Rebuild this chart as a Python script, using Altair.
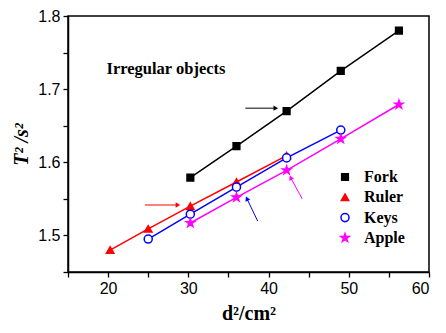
import altair as alt
import pandas as pd

series_names = ["Fork", "Ruler", "Keys", "Apple"]
series_stroke = ["#000000", "#ff0000", "#0000ff", "#ff00ff"]
series_fill = ["#000000", "#ff0000", "#ffffff", "#ff00ff"]

fork_x = [30.25, 36, 42.25, 49, 56.25]
fork_y = [1.579, 1.622, 1.670, 1.725, 1.780]
ruler_x = [20.25, 25, 30.25, 36, 42.25]
ruler_y = [1.480, 1.509, 1.540, 1.573, 1.609]
keys_x = [25, 30.25, 36, 42.25, 49]
keys_y = [1.495, 1.529, 1.566, 1.606, 1.644]
apple_x = [30.25, 36, 42.25, 49, 56.25]
apple_y = [1.517, 1.552, 1.589, 1.632, 1.679]

# annotation arrows (data coordinates): tail -> head
arrow_x0 = [37.1, 24.6, 38.65, 44.2]
arrow_y0 = [1.674, 1.5416, 1.5195, 1.550]
arrow_x1 = [40.9, 28.7, 37.3, 42.75]
arrow_y1 = [1.674, 1.5416, 1.5503, 1.579]
arrow_color = ["#000000", "#ff0000", "#0000ff", "#ff00ff"]
arrow_angle = [90, 90, 335, 333]

note_text = ["Irregular objects"]
note_x = [19.8]
note_y = [1.727]

x_ticks = [15, 20, 25, 30, 35, 40, 45, 50, 55, 60]
y_ticks = [1.45, 1.5, 1.55, 1.6, 1.65, 1.7, 1.75, 1.8]

rows = []
for name, xs, ys in [("Fork", fork_x, fork_y), ("Ruler", ruler_x, ruler_y),
                     ("Keys", keys_x, keys_y), ("Apple", apple_x, apple_y)]:
    for xv, yv in zip(xs, ys):
        rows.append({"series": name, "x": xv, "y": yv})
df = pd.DataFrame(rows)

arrows = pd.DataFrame({"x0": arrow_x0, "y0": arrow_y0, "x1": arrow_x1, "y1": arrow_y1,
                       "c": arrow_color, "a": arrow_angle})
notes = pd.DataFrame({"t": note_text, "x": note_x, "y": note_y})

star = ("M0,-1L0.225,-0.309L0.951,-0.309L0.363,0.118L0.588,0.809L0,0.382"
        "L-0.588,0.809L-0.363,0.118L-0.951,-0.309L-0.225,-0.309Z")

xscale = alt.Scale(domain=[15, 60], nice=False, zero=False)
yscale = alt.Scale(domain=[1.45, 1.8], nice=False, zero=False)

xaxis = alt.Axis(values=x_ticks, labelExpr="datum.value % 10 == 0 ? datum.label : ''",
                 title="d²/cm²", grid=False, tickSize=5, tickColor="black", tickWidth=1.3,
                 domainColor="black", domainWidth=1.5, labelFont="Liberation Sans",
                 labelFontSize=16, labelColor="black", labelPadding=3, labelOverlap=False,
                 titleFont="Liberation Serif", titleFontSize=20, titleFontWeight="bold",
                 titleColor="black", titleBaseline="alphabetic", titleY=47)
yaxis = alt.Axis(values=y_ticks,
                 labelExpr="(round(datum.value * 100) % 10) == 0 ? format(datum.value, '.1f') : ''",
                 title="T² /s²", grid=False, tickSize=5, tickColor="black", tickWidth=1.3,
                 domainColor="black", domainWidth=1.5, labelFont="Liberation Sans",
                 labelFontSize=16, labelColor="black", labelPadding=3, labelOverlap=False,
                 labelBound=False,
                 titleFont="Liberation Serif", titleFontSize=20, titleFontWeight="bold",
                 titleFontStyle="italic", titleColor="black", titleBaseline="alphabetic",
                 titleX=-41)

stroke_scale = alt.Scale(domain=series_names, range=series_stroke)

legend = alt.Legend(title=None, orient="none", legendX=269, legendY=153, padding=0,
                    labelFont="Liberation Serif", labelFontSize=16, labelFontWeight="bold",
                    labelColor="black", labelOffset=11, rowPadding=4.3, symbolStrokeWidth=1.5)

lines = alt.Chart(df).mark_line(strokeWidth=1.5).encode(
    x=alt.X("x:Q", scale=xscale, axis=xaxis),
    y=alt.Y("y:Q", scale=yscale, axis=yaxis),
    stroke=alt.Stroke("series:N", scale=stroke_scale, legend=legend, sort=series_names),
    detail="series:N",
)

points = alt.Chart(df).mark_point(filled=False, strokeWidth=1.5, opacity=1).encode(
    x=alt.X("x:Q", scale=xscale, axis=xaxis),
    y=alt.Y("y:Q", scale=yscale, axis=yaxis),
    stroke=alt.Stroke("series:N", scale=stroke_scale, legend=legend, sort=series_names),
    fill=alt.Fill("series:N", scale=alt.Scale(domain=series_names, range=series_fill),
                  legend=legend, sort=series_names),
    shape=alt.Shape("series:N", scale=alt.Scale(domain=series_names,
                    range=["square", "triangle-up", "circle", star]), legend=legend,
                    sort=series_names),
    size=alt.Size("series:N", scale=alt.Scale(domain=series_names, range=[45, 75, 40, 110]),
                  legend=legend, sort=series_names),
)

arrow_lines = alt.Chart(arrows).mark_rule(strokeWidth=1).encode(
    x=alt.X("x0:Q", scale=xscale, axis=xaxis), y=alt.Y("y0:Q", scale=yscale, axis=yaxis),
    x2="x1:Q", y2="y1:Q",
    color=alt.Color("c:N", scale=None),
)
arrow_heads = alt.Chart(arrows).mark_point(shape="triangle-up", filled=True, size=28, opacity=1).encode(
    x=alt.X("x1:Q", scale=xscale, axis=xaxis), y=alt.Y("y1:Q", scale=yscale, axis=yaxis),
    color=alt.Color("c:N", scale=None),
    angle=alt.Angle("a:Q", scale=None),
)

note = alt.Chart(notes).mark_text(align="left", baseline="middle", font="Liberation Serif",
                                  fontSize=16.5, fontWeight="bold", color="black").encode(
    x=alt.X("x:Q", scale=xscale, axis=xaxis), y=alt.Y("y:Q", scale=yscale, axis=yaxis),
    text="t:N")

chart = alt.layer(lines, arrow_lines, arrow_heads, points, note).properties(
    width=361, height=256,
    autosize=alt.AutoSizeParams(type="none"),
    padding={"left": 60, "top": 8, "right": 9, "bottom": 53},
).configure_view(stroke="black", strokeWidth=1.5)

chart.save("out.html", embed_options={"renderer": "svg", "actions": False})
